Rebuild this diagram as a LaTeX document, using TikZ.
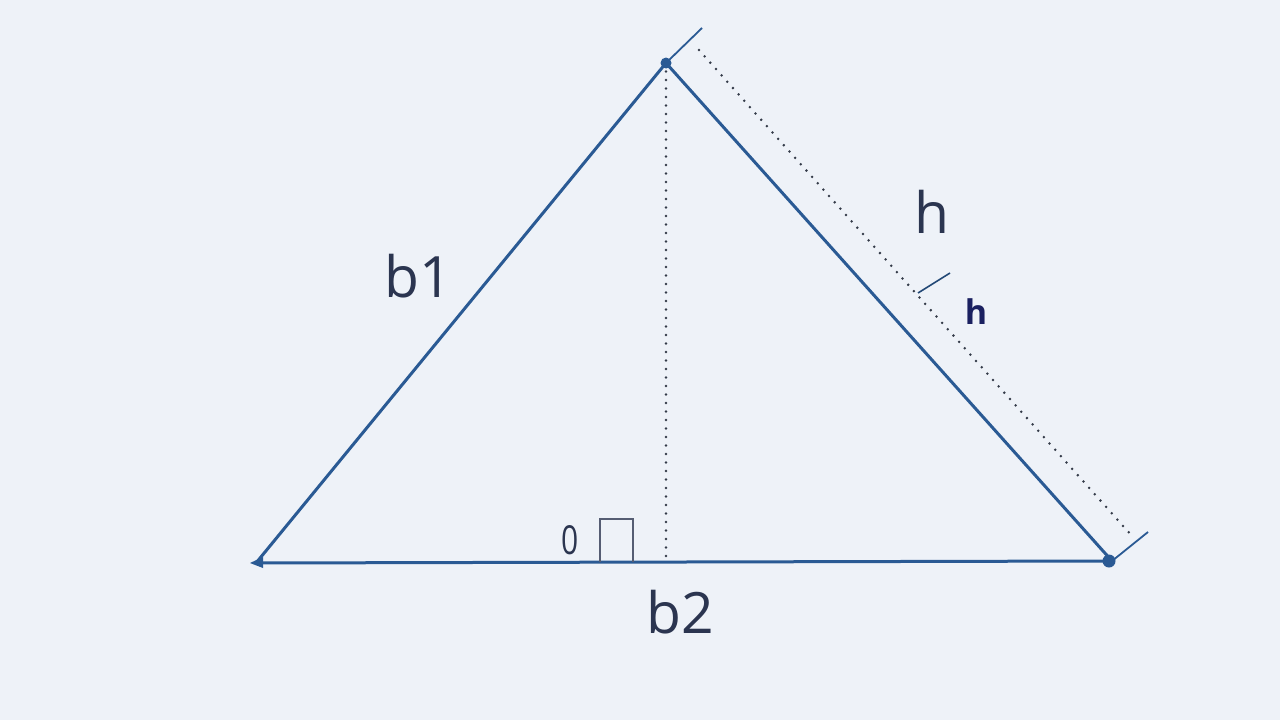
\documentclass[tikz,border=0pt]{standalone}
\usepackage{fontspec}
\setmainfont{Open Sans}
\definecolor{bg}{HTML}{EEF2F8}
\definecolor{edge}{HTML}{2A5A94}
\definecolor{txt}{HTML}{2B3550}
\definecolor{dotc}{HTML}{333A48}
\definecolor{navy}{HTML}{1A2060}
\begin{document}
\begin{tikzpicture}[x=1pt,y=-1pt,
  side/.style={draw=edge,line width=3pt},
  thin/.style={draw=edge,line width=1.8pt},
  dots/.style={draw=dotc,line width=2.8pt,line cap=round,dash pattern=on 0pt off 8.5pt},
  lbl/.style={text=txt,font=\fontsize{57}{60}\selectfont,inner sep=0pt},
  vtx/.style={circle,fill=edge,inner sep=0pt,minimum size=9pt}]
\fill[bg] (0,0) rectangle (1280,720);
\useasboundingbox (0,0) rectangle (1280,720);
\coordinate (A) at (256,563);
\coordinate (B) at (1112,561);
\coordinate (C) at (666,63);
\coordinate (F) at (666,560);
\coordinate (Ct) at (702,28);
\coordinate (Bt) at (1148,532);
\coordinate (D1) at (699,50);
\coordinate (D2) at (1132,536);
\coordinate (T1) at (918,293);
\coordinate (T2) at (950,273);
% dotted lines
\draw[dots] (C) -- (F);
\draw[dots] (D1) -- (D2);
% extension lines
\draw[thin] (C) -- (Ct);
\draw[thin] (B) -- (Bt);
\draw[draw=edge!80!black,line width=1.6pt] (T1) -- (T2);
% triangle
\draw[side,line join=round] (A) -- (B) -- (C) -- cycle;
\node[vtx,minimum size=11pt] (vC) at (C) {};
\node[vtx,minimum size=13pt] (vB) at (1109,561) {};
\fill[edge] (250,563) -- (263,557) -- (263,568) -- cycle;
% right angle mark
\coordinate (R1) at (600,562);
\coordinate (R2) at (600,519);
\coordinate (R3) at (633,519);
\coordinate (R4) at (633,562);
\draw[draw=txt!80,line width=1.7pt] (R1) -- (R2) -- (R3) -- (R4);
\node[text=txt,font=\fontsize{40}{42}\selectfont\addfontfeatures{FakeStretch=0.75},inner sep=0pt] (zero) at (570,540) {0};
% labels
\node[lbl] (b1) at (418,276) {b1};
\node[lbl] (b2) at (680,612) {b2};
\node[lbl] (h) at (932,212) {h};
\node[text=navy,font=\bfseries\fontsize{34}{36}\selectfont,inner sep=0pt] (h2) at (976,312) {h};
\end{tikzpicture}
\end{document}
